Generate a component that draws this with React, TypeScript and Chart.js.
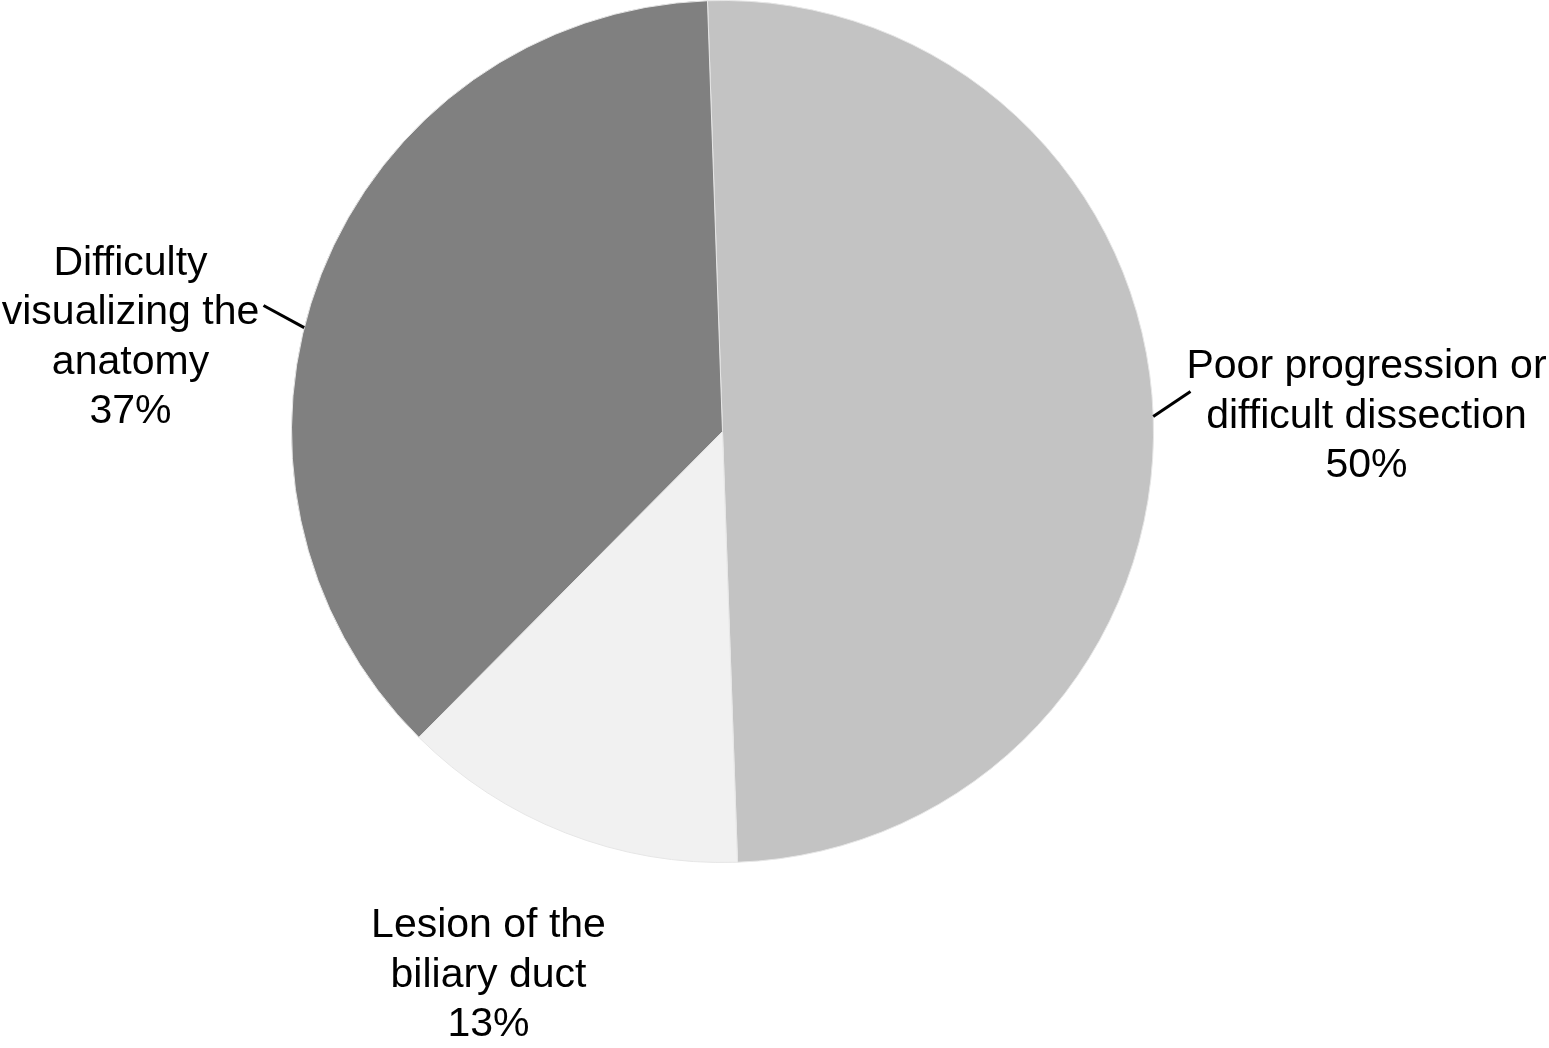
import { useEffect, useRef } from 'react'
import Chart from 'chart.js/auto'

const categories = [
  ['Poor progression or', 'difficult dissection'],
  ['Lesion of the', 'biliary duct'],
  ['Difficulty', 'visualizing the', 'anatomy'],
]
const shares = [50, 13, 37]
const sliceColors = ['#c3c3c3', '#f1f1f1', '#808080']

// text/leader placement relative to the pie centre, in px
const labelLayout = [
  { tx: 644, ty: -15, leadAt: 0.5, leadTo: [468, -40] as number[] | null },
  { tx: -234, ty: 544, leadAt: 0.5, leadTo: null },
  { tx: -592, ty: -94, leadAt: 0.444, leadTo: [-459, -126] },
]

const FONT = '41px "Liberation Sans", Arial, Helvetica, sans-serif'
const LINE_H = 49.5

const outsideLabels = {
  id: 'outsideLabels',
  afterDraw(chart: Chart) {
    const ctx = chart.ctx
    const meta = chart.getDatasetMeta(0)
    ctx.save()
    ctx.font = FONT
    ctx.fillStyle = '#000'
    ctx.strokeStyle = '#000'
    ctx.lineWidth = 3
    ctx.textAlign = 'center'
    ctx.textBaseline = 'middle'
    meta.data.forEach((el: any, i: number) => {
      const { x, y, outerRadius, startAngle, endAngle } = el.getProps(['x', 'y', 'outerRadius', 'startAngle', 'endAngle'], true)
      const lay = labelLayout[i]
      const lines = [...categories[i], `${shares[i]}%`]
      const cx = x + lay.tx
      const cy = y + lay.ty
      const top = cy - ((lines.length - 1) * LINE_H) / 2
      lines.forEach((t, k) => ctx.fillText(t, cx, top + k * LINE_H))
      if (lay.leadTo) {
        const a = startAngle + (endAngle - startAngle) * lay.leadAt
        ctx.beginPath()
        ctx.moveTo(x + Math.cos(a) * outerRadius, y + Math.sin(a) * outerRadius)
        ctx.lineTo(x + lay.leadTo[0], y + lay.leadTo[1])
        ctx.stroke()
      }
    })
    ctx.restore()
  },
}

export default function App() {
  const canvasRef = useRef<HTMLCanvasElement>(null)
  const chartRef = useRef<Chart | null>(null)

  useEffect(() => {
    if (!canvasRef.current) return
    if (chartRef.current) chartRef.current.destroy()

    chartRef.current = new Chart(canvasRef.current, {
      type: 'pie',
      data: {
        labels: categories.map((c) => c.join(' ')),
        datasets: [
          {
            data: shares,
            backgroundColor: sliceColors,
            borderColor: '#e6e6e6',
            borderWidth: 1,
          },
        ],
      },
      options: {
        animation: false,
        responsive: true,
        maintainAspectRatio: false,
        rotation: -2,
        layout: { padding: { left: 290, top: -1, right: 394, bottom: 185 } },
        plugins: { legend: { display: false }, tooltip: { enabled: false } },
      },
      plugins: [outsideLabels],
    })

    return () => { chartRef.current?.destroy() }
  }, [])

  return (
    <div style={{ position: 'fixed', left: 0, top: 0, width: 1549, height: 1048, background: '#fff' }}>
      <canvas ref={canvasRef} />
    </div>
  )
}
